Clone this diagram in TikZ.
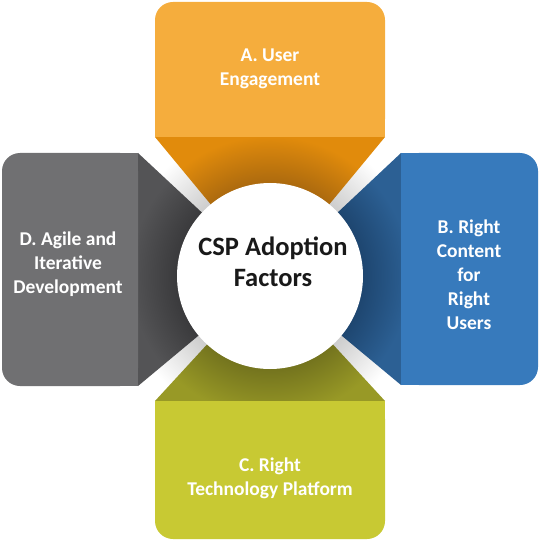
\documentclass[tikz,border=0pt]{standalone}
\usepackage{fontspec}
\setmainfont{Carlito}

\definecolor{boxA}{RGB}{245,173,61}
\definecolor{wedgeA}{RGB}{225,139,12}
\definecolor{haloA}{RGB}{172,106,14}
\definecolor{boxB}{RGB}{55,122,188}
\definecolor{wedgeB}{RGB}{44,96,148}
\definecolor{haloB}{RGB}{30,70,112}
\definecolor{boxC}{RGB}{200,201,51}
\definecolor{wedgeC}{RGB}{152,153,38}
\definecolor{haloC}{RGB}{116,116,30}
\definecolor{boxD}{RGB}{112,112,114}
\definecolor{wedgeD}{RGB}{84,84,86}
\definecolor{haloD}{RGB}{58,58,60}
\definecolor{gapgray}{RGB}{205,205,205}

\colorlet{haloin}{black}
\colorlet{haloout}{white}
\pgfdeclareradialshading[haloin,haloout]{halo}{\pgfpoint{0pt}{0pt}}{%
  color(0pt)=(haloin); color(93pt)=(haloin);
  color(140pt)=(haloout); color(190pt)=(haloout)}
\pgfdeclareradialshading[haloin,haloout]{gaphalo}{\pgfpoint{0pt}{0pt}}{%
  color(0pt)=(haloin); color(93pt)=(haloin);
  color(150pt)=(haloout); color(190pt)=(haloout)}

\begin{document}
\begin{tikzpicture}[x=1pt,y=-1pt]

      \useasboundingbox (0,0) rectangle (546,540);
      \coordinate (ctr) at (270,276);

      % soft shadow showing through the gaps
      \begin{scope}
        \clip (155,137) -- (385,137) -- (401,153) -- (401,385) -- (385,401)
          -- (155,401) -- (138,386) -- (138,153) -- cycle;
        \colorlet{haloin}{gapgray}\colorlet{haloout}{white}
        \node[inner sep=0pt] (gapShade) at (ctr) {\pgfuseshading{gaphalo}};
      \end{scope}

      % wedges
      \begin{scope}
        \clip (155,137) -- (385,137) -- (ctr) -- cycle;
        \colorlet{haloin}{haloA}\colorlet{haloout}{wedgeA}
        \node[inner sep=0pt] (wedgeUser) at (ctr) {\pgfuseshading{halo}};
      \end{scope}
      \begin{scope}
        \clip (401,153) -- (401,385) -- (ctr) -- cycle;
        \colorlet{haloin}{haloB}\colorlet{haloout}{wedgeB}
        \node[inner sep=0pt] (wedgeContent) at (ctr) {\pgfuseshading{halo}};
      \end{scope}
      \begin{scope}
        \clip (155,401) -- (385,401) -- (ctr) -- cycle;
        \colorlet{haloin}{haloC}\colorlet{haloout}{wedgeC}
        \node[inner sep=0pt] (wedgeTech) at (ctr) {\pgfuseshading{halo}};
      \end{scope}
      \begin{scope}
        \clip (138,153) -- (138,386) -- (ctr) -- cycle;
        \colorlet{haloin}{haloD}\colorlet{haloout}{wedgeD}
        \node[inner sep=0pt] (wedgeAgile) at (ctr) {\pgfuseshading{halo}};
      \end{scope}

      % boxes
      \begin{scope}[rounded corners=18]
        \fill[boxA] (155,2) rectangle (385,137);
        \fill[boxB] (401,153) rectangle (538,385);
        \fill[boxC] (155,401) rectangle (385,539);
        \fill[boxD] (2,153) rectangle (138,386);
      \end{scope}
      \fill[boxA] (155,110) rectangle (385,137);
      \fill[boxB] (401,153) rectangle (430,385);
      \fill[boxC] (155,401) rectangle (385,430);
      \fill[boxD] (110,153) rectangle (138,386);

      \node[circle, fill=white, minimum size=186pt, inner sep=0pt] (hub) at (ctr) {};

      \begin{scope}[every node/.style={text=white, align=center,
          font=\fontsize{19.5}{24}\selectfont\bfseries}]
        \node (userEng)  at (270,69)  {A. User\\Engagement};
        \node (content)  at (469,275) {B. Right\\Content\\for\\Right\\Users};
        \node (techPlat) at (270,478) {C. Right\\Technology Platform};
        \node (agileDev) at (68,264)  {D. Agile and\\Iterative\\Development};
      \end{scope}

      \node[align=center, text=black!90, font=\fontsize{26.5}{31}\selectfont\bfseries]
        (title) at (273,262) {CSP Adoption\\Factors};

    \end{tikzpicture}
\end{document}
